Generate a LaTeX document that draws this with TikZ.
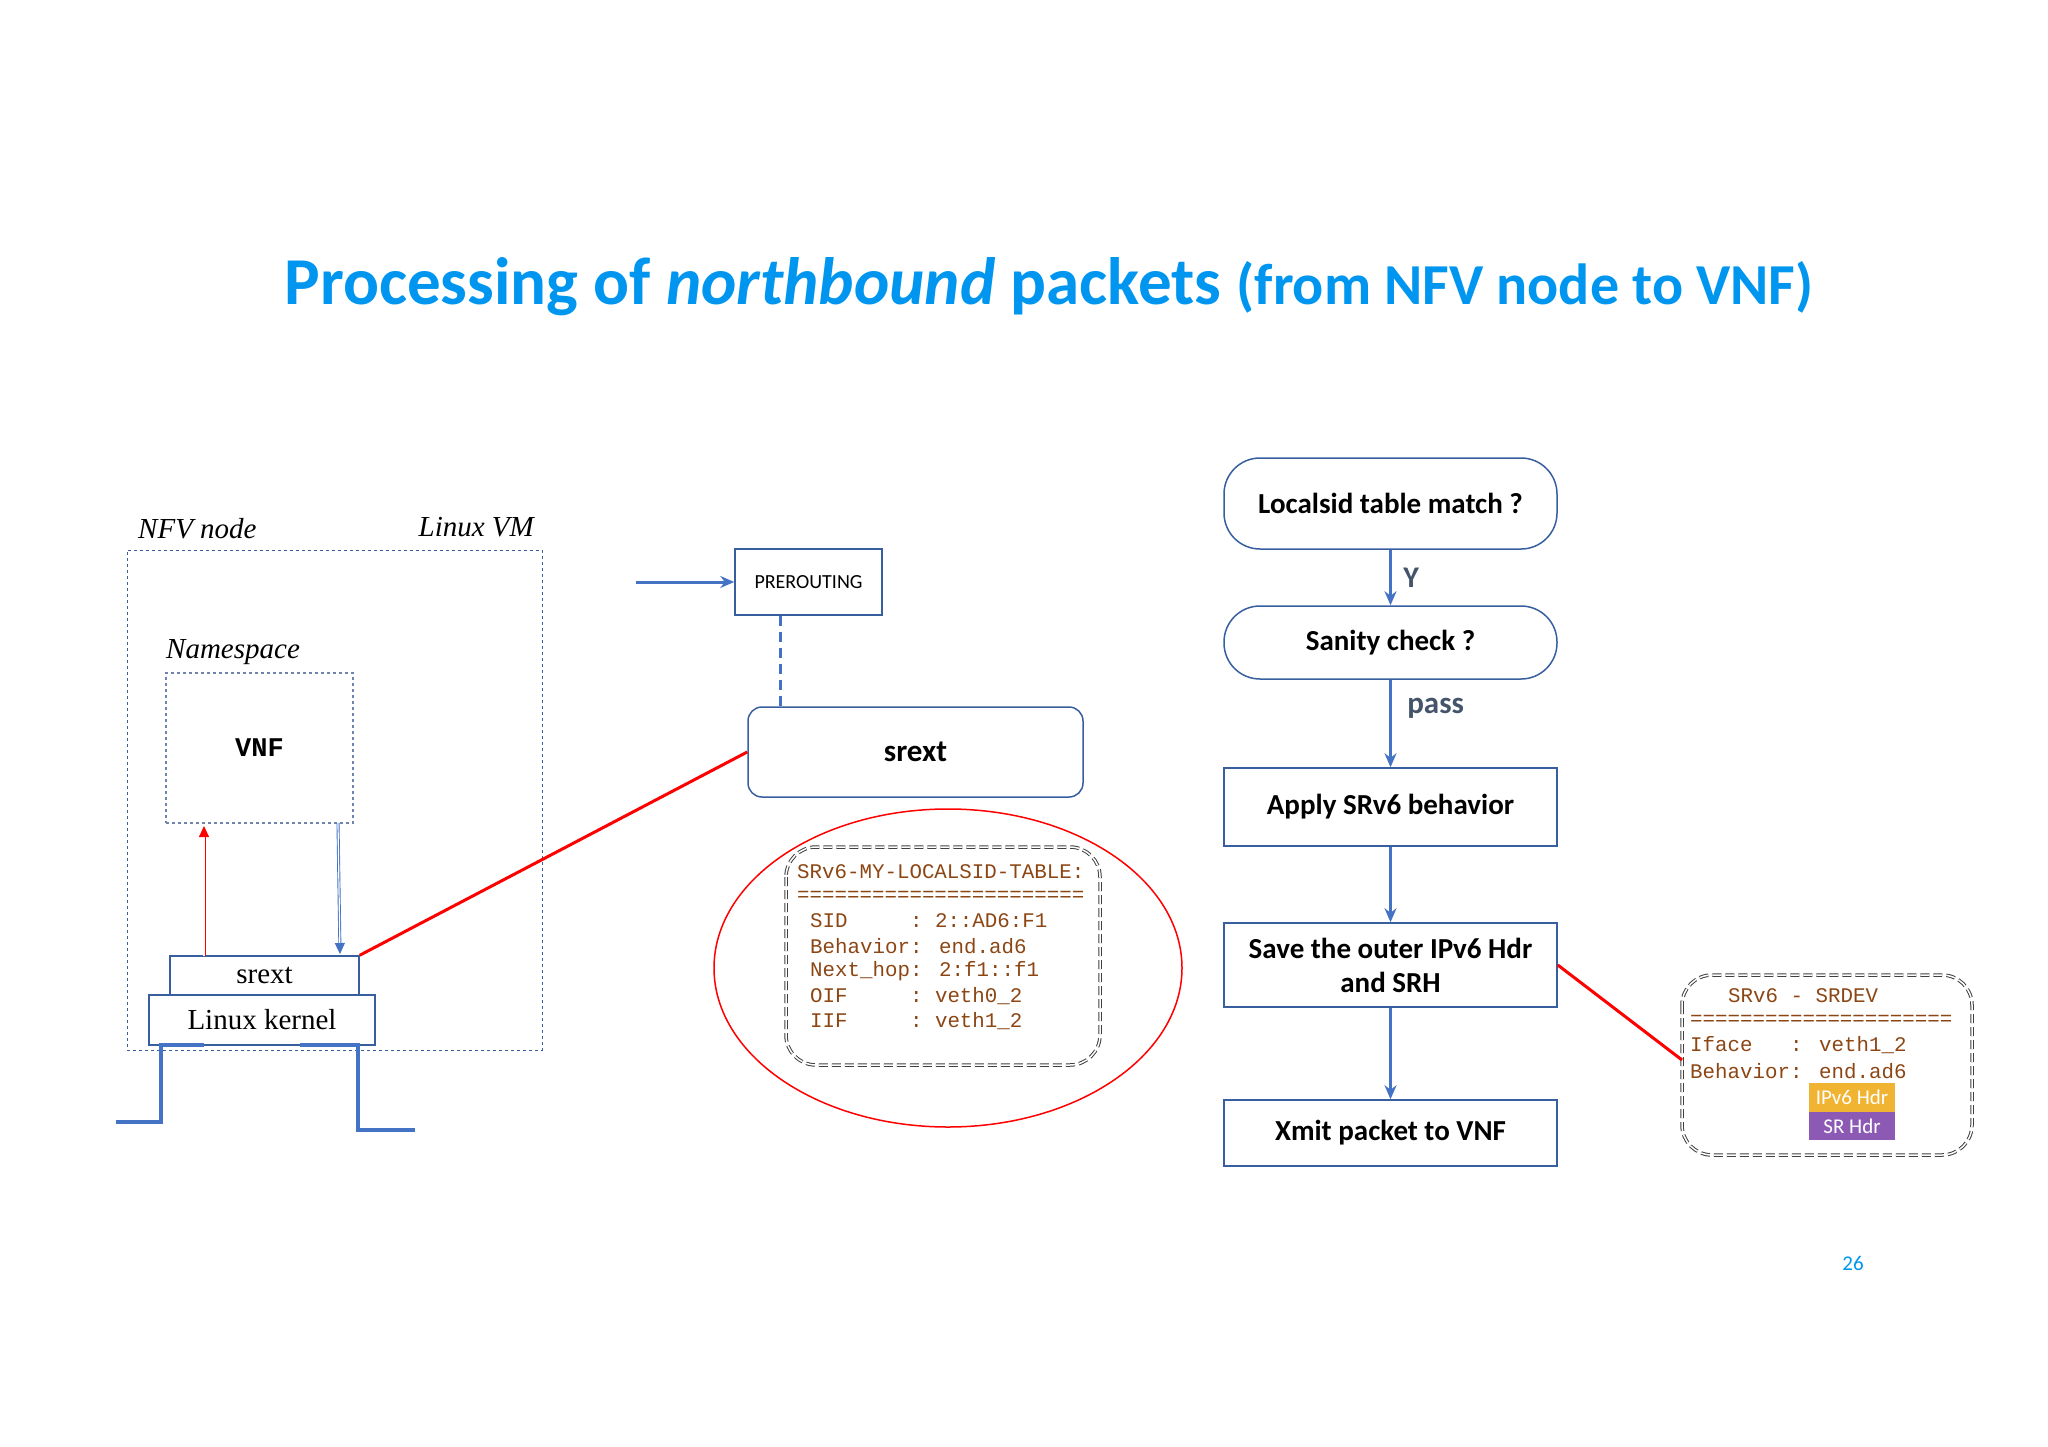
\documentclass[tikz,border=0pt]{standalone}
\usepackage{fontspec}
\setmainfont{Carlito}
\newfontfamily\tnr{Liberation Serif}
\newfontfamily\mono{Liberation Mono}
\usetikzlibrary{arrows.meta,positioning,shapes.geometric}
\definecolor{ttl}{RGB}{0,150,240}
\definecolor{fblue}{RGB}{55,95,160}
\definecolor{lblue}{RGB}{68,114,196}
\definecolor{brn}{RGB}{140,70,20}
\definecolor{lbl}{RGB}{68,84,106}
\definecolor{org}{RGB}{240,180,50}
\definecolor{prp}{RGB}{140,90,180}
\begin{document}
\begin{tikzpicture}[x=1pt,y=-1pt,
  fbox/.style={draw=fblue,line width=1.5pt,minimum width=333pt,align=center,font=\fontsize{29}{34}\selectfont\bfseries},
  stad/.style={fbox,rounded corners=36pt},
  farr/.style={draw=lblue,line width=3pt,-{Stealth[length=14pt,width=12pt]}},
  kbox/.style={draw=fblue,line width=1.5pt,inner sep=0pt,font=\tnr\fontsize{29}{32}\selectfont},
  tbl/.style={draw=black!75,double,double distance=1.5pt,dash pattern=on 9pt off 4pt,rounded corners=30pt,line width=1pt},
  mono/.style={font=\mono\fontsize{20.8}{24}\selectfont,text=brn,anchor=west,inner sep=0pt},
  ital/.style={font=\tnr\itshape\fontsize{29}{32}\selectfont,inner sep=0pt}]
\useasboundingbox (0,0) rectangle (2048,1447);
\node[text=ttl,font=\fontsize{67}{76}\selectfont\bfseries] (title) at (1049,287) {Processing of \textit{northbound} packets {\fontsize{58}{66}\selectfont(from NFV node to VNF)}};
% left panel
\node[draw=fblue,dashed,line width=1pt,minimum width=415pt,minimum height=500pt,inner sep=0pt] (vm) at (334.5,800) {};
\node[ital,anchor=base west] (nfv) at (138,538) {NFV node};
\node[ital,anchor=base east] (lvm) at (534,536) {Linux VM};
\node[ital,anchor=base west] (ns) at (166,658) {Namespace};
\node[draw=black!30!lblue!70,dashed,line width=1.2pt,minimum width=187pt,minimum height=150pt,inner sep=0pt,font=\mono\bfseries\fontsize{27}{30}\selectfont] (vnf) at (259.5,748) {VNF};
\node[kbox,minimum width=189pt,minimum height=39pt] (sx) at (264.5,975.5) {srext};
\node[kbox,minimum width=226pt,minimum height=50pt,fill=white] (lk) at (262,1020) {Linux kernel};
\coordinate (ra) at (204,826); \coordinate (rb) at (204,956);
\draw[red,double,double distance=1.2pt,line width=0.9pt,-{Triangle[length=11pt,width=10pt]}] (rb) -- (ra);
\coordinate (ba) at (338,823); \coordinate (bb) at (340,954);
\draw[lblue,double,double distance=1.2pt,line width=0.9pt,-{Triangle[length=11pt,width=10pt]}] (ba) -- (bb);
\coordinate (l1) at (116,1122); \coordinate (l2) at (161,1122); \coordinate (l3) at (161,1045); \coordinate (l4) at (204,1045);
\draw[lblue,line width=3.5pt] (l1) -- (l2) -- (l3) -- (l4);
\coordinate (r1) at (415,1130); \coordinate (r2) at (358,1130); \coordinate (r3) at (358,1045); \coordinate (r4) at (300,1045);
\draw[lblue,line width=3.5pt] (r1) -- (r2) -- (r3) -- (r4);
% middle
\node[draw=fblue,line width=1.5pt,minimum width=147pt,minimum height=66pt,inner sep=0pt,font=\fontsize{20}{24}\selectfont] (pre) at (808.5,582) {PREROUTING};
\coordinate (pin) at (636,582);
\draw[farr] (pin) -- (pre.west);
\node[draw=fblue,line width=1.5pt,rounded corners=14pt,minimum width=335pt,minimum height=90pt,inner sep=0pt,font=\fontsize{31}{36}\selectfont\bfseries] (sxb) at (915.5,752) {srext};
\draw[lblue,line width=3pt,dash pattern=on 10pt off 6pt] (pre.south -| 780,0) -- (sxb.north -| 780,0);
\draw[red,line width=3pt] (sx.north east) -- (sxb.west);
\node[draw=red,line width=1.5pt,ellipse,minimum width=468pt,minimum height=318pt,inner sep=0pt] (ell) at (948,968) {};
\draw[tbl] (786,847) rectangle (1100,1065);
\node[mono] (t1) at (797,872) {SRv6-MY-LOCALSID-TABLE:};
\node[mono] (t2) at (797,896) {=======================};
\node[mono] (t3) at (810,921) {SID\ \ \ \ \ : 2::AD6:F1};
\node[mono] (t4) at (810,946) {Behavior: end.ad6};
\node[mono] (t5) at (810,971) {Next\_hop: 2:f1::f1};
\node[mono] (t6) at (810,996) {OIF\ \ \ \ \ : veth0\_2};
\node[mono] (t7) at (810,1021) {IIF\ \ \ \ \ : veth1\_2};
% flowchart
\node[stad,minimum height=91pt] (f1) at (1390.5,503.5) {Localsid table match ?};
\node[stad,minimum height=73pt] (f2) at (1390.5,642.5) {Sanity check ?};
\node[fbox,minimum height=78pt] (f3) at (1390.5,807) {Apply SRv6 behavior};
\node[fbox,minimum height=84pt] (f4) at (1390.5,965) {Save the outer IPv6 Hdr\\and SRH};
\node[fbox,minimum height=66pt] (f5) at (1390.5,1133) {Xmit packet to VNF};
\draw[farr] (f1) -- (f2) node[midway,right=8pt,text=lbl,font=\fontsize{30}{34}\selectfont\bfseries] (ly) {Y};
\draw[farr] (f2) -- (f3) node[pos=0.33,right=12pt,text=lbl,font=\fontsize{31}{34}\selectfont\bfseries] (lp) {pass};
\draw[farr] (f3) -- (f4);
\draw[farr] (f4) -- (f5);
\draw[tbl] (1682,975) rectangle (1972,1155);
\draw[red,line width=3pt] (f4.east) -- (1682,1060);
\node[mono] (s1) at (1728,996) {SRv6 - SRDEV};
\node[mono] (s2) at (1690,1020) {=====================};
\node[mono] (s3) at (1690,1045) {Iface\ \ \ : veth1\_2};
\node[mono] (s4) at (1690,1071) {Behavior: end.ad6};
\node[fill=org,text=white,minimum width=86pt,minimum height=29pt,inner sep=0pt,font=\fontsize{21}{24}\selectfont] (h1) at (1852,1097.5) {IPv6 Hdr};
\node[fill=prp,text=white,minimum width=86pt,minimum height=28pt,inner sep=0pt,font=\fontsize{21}{24}\selectfont] (h2) at (1852,1126) {SR Hdr};
\node[text=ttl,font=\fontsize{21}{24}\selectfont] (pg) at (1853,1263) {26};
\end{tikzpicture}
\end{document}
